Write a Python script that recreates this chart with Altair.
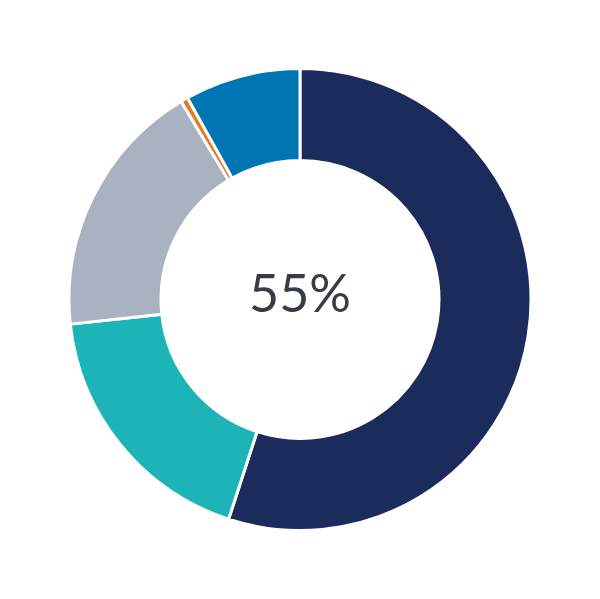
import altair as alt
import pandas as pd

categories = ["A", "B", "C", "D", "E"]
values = [55.0, 18.3, 18.1, 0.5, 8.1]
colors = ["#1b2b5b", "#1cb4b6", "#a9b2c0", "#e87722", "#0075b3"]
center_label = ["55%"]

df = pd.DataFrame({"cat": categories, "val": values, "ord": list(range(len(categories)))})

base = alt.Chart(df).encode(
    theta=alt.Theta("val:Q", stack=True),
    order=alt.Order("ord:Q"),
    color=alt.Color("cat:N", scale=alt.Scale(domain=categories, range=colors), legend=None),
)
arcs = base.mark_arc(outerRadius=231, innerRadius=139, stroke="white", strokeWidth=3)

text = alt.Chart(pd.DataFrame({"t": center_label})).mark_text(
    font="Lato", fontSize=52, color="#363d48", baseline="middle", align="center", dy=-4
).encode(text="t:N")

chart = (arcs + text).properties(width=584, height=583, padding=0).configure_view(stroke=None)
chart.save("out.html", embed_options={"renderer": "svg", "actions": False})
